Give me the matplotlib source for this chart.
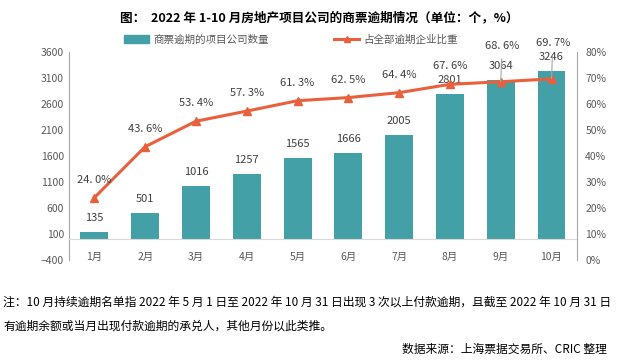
import matplotlib.pyplot as plt
from matplotlib.lines import Line2D
from matplotlib.patches import Patch
import numpy as np

plt.rcParams['font.family'] = ['Noto Sans CJK SC', 'DejaVu Sans']

months = ['1月', '2月', '3月', '4月', '5月', '6月', '7月', '8月', '9月', '10月']
counts = [135, 501, 1016, 1257, 1565, 1666, 2005, 2801, 3064, 3246]
share = [24.0, 43.6, 53.4, 57.3, 61.3, 62.5, 64.4, 67.6, 68.6, 69.7]
share_labels = ['24. 0%', '43. 6%', '53. 4%', '57. 3%', '61. 3%', '62. 5%', '64. 4%', '67. 6%', '68. 6%', '69. 7%']

bar_color = '#43A0A7'
line_color = '#E8603C'
txt_color = '#404040'
tick_color = '#595959'

fig = plt.figure(figsize=(6.19, 3.62), dpi=100)
ax = fig.add_axes([0.1115, 0.282, 0.8205, 0.574])
x = np.arange(len(months))

ax.bar(x, counts, width=0.55, color=bar_color, zorder=2)
ax.set_ylim(-400, 3600)
ax.set_yticks(np.arange(-400, 3601, 500))
ax.set_xlim(-0.5, len(months) - 0.5)
ax.set_xticks(x)
ax.set_xticklabels(months)
ax.spines['bottom'].set_position(('data', 0))
ax.spines['bottom'].set_color('#D9D9D9')
ax.spines['top'].set_visible(False)
ax.spines['right'].set_visible(False)
ax.spines['left'].set_color('#A6A6A6')
ax.tick_params(axis='both', length=0, labelsize=7.5, colors=tick_color)
ax.tick_params(axis='x', pad=9)

for i, v in enumerate(counts):
    ax.annotate(str(v), (i, v), xytext=(0, 10), textcoords='offset points',
                ha='center', va='center', fontsize=8, color=txt_color)

ax2 = ax.twinx()
ax2.plot(x, share, color=line_color, lw=2.2, marker='^', ms=5.5, zorder=3)
ax2.set_ylim(0, 80)
ax2.set_yticks(np.arange(0, 81, 10))
ax2.set_yticklabels([f'{t}%' for t in range(0, 81, 10)])
ax2.spines['top'].set_visible(False)
ax2.spines['left'].set_visible(False)
ax2.spines['bottom'].set_visible(False)
ax2.spines['right'].set_color('#A6A6A6')
ax2.tick_params(axis='y', length=0, labelsize=7.5, colors=tick_color, pad=6)

for i, v in enumerate(share):
    if i >= 8:
        ax2.annotate(share_labels[i], (i, v), xytext=(1, 26), textcoords='offset points',
                     ha='center', va='center', fontsize=8, color=txt_color,
                     arrowprops=dict(arrowstyle='-', color='#A6A6A6', lw=0.8, shrinkA=4, shrinkB=0))
    else:
        ax2.annotate(share_labels[i], (i, v), xytext=(0, 13), textcoords='offset points',
                     ha='center', va='center', fontsize=8, color=txt_color)

fig.text(0.515, 0.95, '图：  2022 年 1-10 月房地产项目公司的商票逾期情况（单位：个，%）',
         ha='center', va='center', fontsize=9.1, fontweight='bold', color='black')

handles = [Patch(color=bar_color), Line2D([0], [0], color=line_color, lw=2.2, marker='^', ms=5)]
fig.legend(handles, ['商票逾期的项目公司数量', '占全部逾期企业比重'], loc='center',
           bbox_to_anchor=(0.470, 0.891), ncol=2, frameon=False, fontsize=7.6,
           labelcolor=tick_color, columnspacing=6.2, handlelength=2.4, handletextpad=0.38)

fig.text(0.005, 0.165, '注：10 月持续逾期名单指 2022 年 5 月 1 日至 2022 年 10 月 31 日出现 3 次以上付款逾期，且截至 2022 年 10 月 31 日',
         ha='left', va='center', fontsize=8.5, color='black')
fig.text(0.005, 0.10, '有逾期余额或当月出现付款逾期的承兑人，其他月份以此类推。',
         ha='left', va='center', fontsize=8.5, color='black')
fig.text(0.981, 0.036, '数据来源：上海票据交易所、CRIC 整理',
         ha='right', va='center', fontsize=8.5, color='black')

fig.savefig('out.png', dpi=100)
